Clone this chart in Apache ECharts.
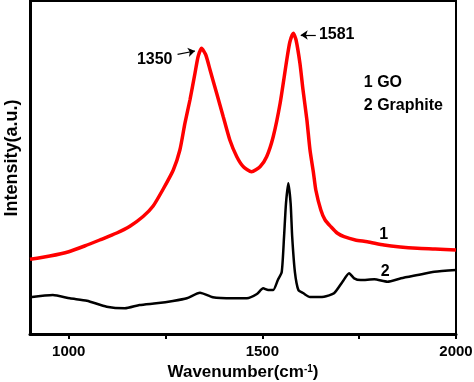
<!DOCTYPE html>
<html>
<head>
<meta charset="utf-8">
<script src="https://cdn.jsdelivr.net/npm/echarts@6/dist/echarts.min.js"></script>
<style>html,body{margin:0;padding:0;background:#fff}#c{width:474px;height:382px}</style>
</head>
<body>
<div id="c"></div>
<script>
// GO (curve 1)
const goWavenumber = [900,951,1000,1041,1080,1124,1158,1192,1218,1244,1270,1287,1300,1313,1326,1334,1343,1354,1365,1382,1399,1416,1434,1451,1472,1494,1511,1528,1546,1563,1571,1580,1587,1597,1605,1615,1623,1632,1638,1651,1662,1677,1693,1711,1740,1771,1814,1856,1900,1946,2000];
const goIntensity = [74.7,78,82.3,88,94,101,107.8,117.5,128,145,164,184,210.7,234,260.7,277.3,285.7,279,264,240.7,217.3,194,177.3,167.3,162.3,167.3,177.3,197.3,231,274,292,300.7,294,270.7,244,214,184,161,144,124,114,107.3,101,97.3,94,92.3,89,87,85.7,85,84];
// Graphite (curve 2)
const grWavenumber = [900,959,1003,1047,1098,1145,1183,1226,1269,1305,1339,1372,1424,1460,1486,1502,1515,1528,1540,1550,1556,1561,1567,1573,1577,1584,1593,1606,1623,1659,1685,1707,1724,1737,1754,1789,1823,1858,1901,1944,2000];
const grIntensity = [36.7,39,35.7,33.3,27.3,25.7,29,30.7,33,35.7,41.3,36.7,35.7,35.7,40,45.7,44,44,54,62,97.3,130.7,150.7,130.7,97.3,62,44,40.7,37,37.3,40.7,52.3,60.7,55.7,54,54.7,52.3,55.7,59,62.3,64];
const xTicks = [1000,1250,1500,1750,2000];
const xTickLabels = [1000,1500,2000];
const peakLabels = ['1350','1581'];
const legendLines = ['1 GO','2 Graphite'];

const F = '"Liberation Sans", Arial, sans-serif';
const zip = (a,b) => a.map((v,i)=>[v,b[i]]);

const chart = echarts.init(document.getElementById('c'), null, {renderer:'canvas'});
const txt = (s, fs, align) => ({show:true, formatter:s, fontFamily:F, fontWeight:'bold', fontSize:fs, color:'#000', align:align||'center', verticalAlign:'middle', position:'inside'});
chart.setOption({
  animation:false,
  grid:{left:30, right:18, top:1, bottom:48, show:true, borderColor:'#000', borderWidth:2, outerBoundsMode:'none', containLabel:false},
  xAxis:{
    type:'value', min:900, max:2000,
    axisLine:{show:true, lineStyle:{color:'#000', width:3}},
    axisTick:{show:true, inside:false, length:5, customValues:xTicks, lineStyle:{color:'#000', width:2}},
    axisLabel:{customValues:xTickLabels, formatter:v=>String(v), fontFamily:F, fontWeight:'bold', fontSize:15, color:'#000', margin:10},
    splitLine:{show:false},
    name:'Wavenumber(cm{sup|-1})', nameLocation:'middle', nameGap:28,
    nameTextStyle:{fontFamily:F, fontWeight:'bold', fontSize:17, color:'#000',
      rich:{sup:{fontFamily:F, fontWeight:'bold', fontSize:10, color:'#000', verticalAlign:'top'}}}
  },
  yAxis:{
    type:'value', min:0, max:333,
    axisLine:{show:true, lineStyle:{color:'#000', width:3}},
    axisTick:{show:false}, axisLabel:{show:false}, splitLine:{show:false},
    name:'Intensity(a.u.)', nameLocation:'middle', nameGap:9,
    nameTextStyle:{fontFamily:F, fontWeight:'bold', fontSize:18, color:'#000', padding:[0,0,0,19]}
  },
  series:[
    {type:'line', data:zip(goWavenumber, goIntensity), showSymbol:false, smooth:0.2,
     lineStyle:{color:'#ff0000', width:3.5}, z:3,
     markLine:{silent:true, symbol:['none','arrow'], symbolSize:7,
       lineStyle:{color:'#000', width:1.2, type:'solid'}, label:{show:false},
       data:[[{coord:[1281,279.7]},{coord:[1326,283]}],[{coord:[1638,299]},{coord:[1599,299]}]]},
     markPoint:{silent:true, symbol:'circle', symbolSize:1, itemStyle:{color:'rgba(0,0,0,0)'},
       data:[
         {coord:[1222,274], label:txt(peakLabels[0],16)},
         {coord:[1692,299], label:txt(peakLabels[1],16)},
         {coord:[1813,99], label:txt('1',16)},
         {coord:[1817,62.3], label:txt('2',16)},
         {coord:[1762,251], label:txt(legendLines[0],16,'left')},
         {coord:[1762,228], label:txt(legendLines[1],16,'left')}
       ]}
    },
    {type:'line', data:zip(grWavenumber, grIntensity), showSymbol:false, smooth:0.2,
     lineStyle:{color:'#000', width:2.5}, z:2}
  ]
});
</script>
</body>
</html>
